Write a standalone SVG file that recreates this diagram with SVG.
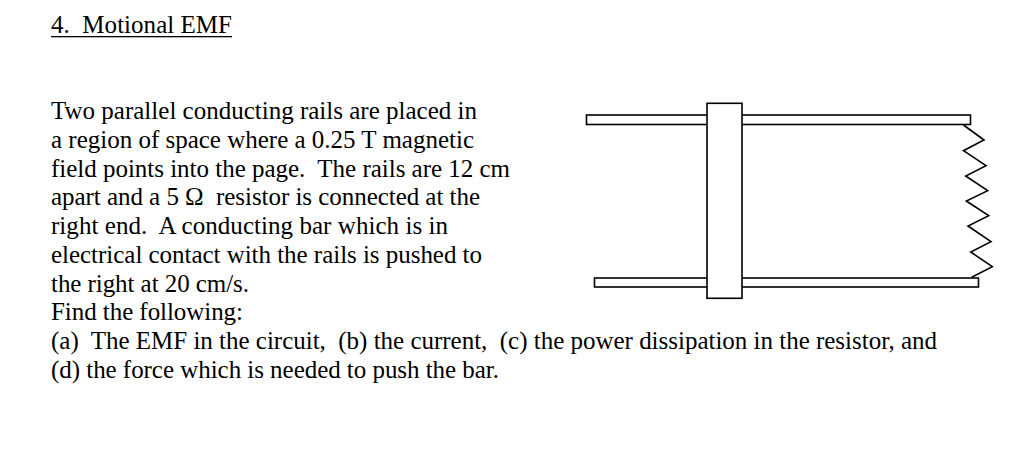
<svg xmlns="http://www.w3.org/2000/svg" width="1024" height="461" viewBox="0 0 1024 461">
<style>
text{font-family:"Liberation Serif","Times New Roman",serif;font-size:25px;fill:#000;white-space:pre}
.s{fill:#fff;stroke:#000;stroke-width:1.6}
.w{fill:none;stroke:#000;stroke-width:1.6;stroke-linejoin:miter}
</style>
<rect width="1024" height="461" fill="#fff"/>
<g id="title"><text x="51" y="33" textLength="181">4.  Motional EMF</text><rect x="51" y="36" width="181" height="1.3" fill="#000"/></g>
<g id="problem">
<text x="51" y="119" textLength="426">Two parallel conducting rails are placed in</text>
<text x="51" y="148" textLength="423">a region of space where a 0.25 T magnetic</text>
<text x="51" y="177" textLength="459">field points into the page.  The rails are 12 cm</text>
<text x="51" y="205" textLength="429">apart and a 5 Ω  resistor is connected at the</text>
<text x="51" y="234" textLength="397">right end.  A conducting bar which is in</text>
<text x="51" y="263" textLength="431">electrical contact with the rails is pushed to</text>
<text x="51" y="292" textLength="198">the right at 20 cm/s.</text>
<text x="51" y="320" textLength="192">Find the following:</text>
<text x="51" y="349" textLength="886">(a)  The EMF in the circuit,  (b) the current,  (c) the power dissipation in the resistor, and</text>
<text x="51" y="378" textLength="448">(d) the force which is needed to push the bar.</text>
</g>
<g id="connectors">
<polyline id="resistor" class="w" points="963.5,125 984,140 963.5,150.7 986,165.7 965.7,176 987.7,190.7 966.3,201 988.7,215.7 968,226 991,241.7 970.7,252 992.3,266.7 971.7,277.3"/>
</g>
<g id="top-rail"><rect class="s" x="586.5" y="115" width="384" height="9.5"/></g>
<g id="bottom-rail"><rect class="s" x="594.5" y="278" width="384" height="9"/></g>
<g id="bar"><rect class="s" x="707" y="103.3" width="35" height="195"/></g>
</svg>
